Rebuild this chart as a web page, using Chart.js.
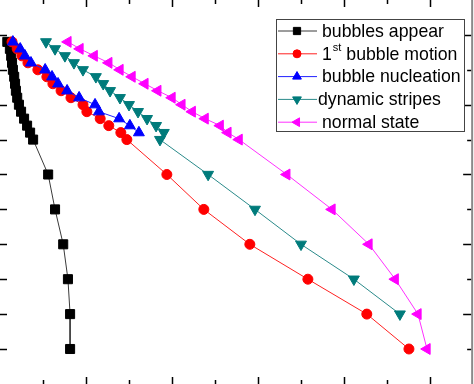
<!DOCTYPE html>
<html>
<head>
<meta charset="utf-8">
<script src="https://cdn.jsdelivr.net/npm/chart.js@4.4.0/dist/chart.umd.min.js"></script>
<style>
    html, body { margin: 0; padding: 0; background: #fff; }
    #wrap { position: relative; width: 474px; height: 384px; }
</style>
</head>
<body>
<div id="wrap"><canvas id="chart"></canvas></div>
<script>
// Vertical levels (axis is reversed, top = small)
const levels = [1.2, 1.4, 1.6, 1.8, 2.0, 2.2, 2.4, 2.6, 2.8, 3.0, 3.2, 3.4, 3.6, 3.8, 4.0, 5, 6, 7, 8, 9, 10];

// Horizontal values per series
const bubblesAppear = [0.17, 0.23, 0.26, 0.28, 0.30, 0.33, 0.35, 0.37, 0.40, 0.44, 0.49, 0.56, 0.63, 0.70, 0.77, 1.12, 1.28, 1.47, 1.58, 1.63, 1.63];
const firstMotion = [0.28, 0.40, 0.51, 0.65, 0.88, 1.09, 1.23, 1.42, 1.65, 1.93, 2.02, 2.33, 2.53, 2.81, 2.95, 3.88, 4.74, 5.81, 7.16, 8.53, 9.51];
const nucleation = [0.30, 0.47, 0.58, 0.72, 1.05, 1.21, 1.35, 1.56, 1.84, 2.21, 2.30, 2.77, 3.02, 3.23];
const stripes = [1.07, 1.28, 1.51, 1.72, 1.93, 2.23, 2.40, 2.56, 2.79, 3.00, 3.21, 3.42, 3.63, 3.81, 3.72, 4.84, 5.93, 7.00, 8.23, 9.30];
const normalState = [1.58, 1.86, 2.19, 2.53, 2.79, 3.07, 3.37, 3.67, 4.00, 4.23, 4.47, 4.77, 5.12, 5.30, 5.56, 6.67, 7.72, 8.58, 9.19, 9.72, 9.93];

const seriesLabels = ['bubbles appear', '1st bubble motion', 'bubble nucleation', 'dynamic stripes', 'normal state'];

// Tick positions (no tick labels are visible in the crop)
const xTicks = [1, 2, 3, 4, 5, 6, 7, 8, 9, 10];
const yTicks = [1, 2, 3, 4, 5, 6, 7, 8, 9, 10];

const FONT = '"Liberation Sans", Arial, sans-serif';

function toPoints(xs) {
    return xs.map((x, i) => ({ x: x, y: levels[i] }));
}

function makeSet(label, xs, color, lineColor, style, rot, radius, order) {
    return {
        label: label,
        data: toPoints(xs),
        borderColor: lineColor,
        borderWidth: 1,
        backgroundColor: color,
        pointStyle: style,
        pointRotation: rot,
        pointRadius: radius,
        pointBackgroundColor: color,
        pointBorderColor: color,
        pointBorderWidth: 1,
        tension: 0,
        clip: false,
        order: order
    };
}

// Frame, inward ticks and the legend box
const framePlugin = {
    id: 'frame',
    afterDatasetsDraw(chart) {
        const ctx = chart.ctx;
        const xs = chart.scales.x, ys = chart.scales.y;
        const H = chart.height;
        ctx.save();

        // right frame line
        const rx = xs.getPixelForValue(10.98);
        ctx.strokeStyle = '#8a8a8a';
        ctx.lineWidth = 2;
        ctx.beginPath();
        ctx.moveTo(rx, 0);
        ctx.lineTo(rx, H);
        ctx.stroke();

        ctx.strokeStyle = '#000';
        ctx.lineWidth = 1.5;
        xTicks.forEach(v => {
            const px = Math.round(xs.getPixelForValue(v)) + 0.5;
            const len = v % 2 === 0 ? 7 : 4;
            ctx.beginPath();
            ctx.moveTo(px, 0); ctx.lineTo(px, len);
            ctx.moveTo(px, H); ctx.lineTo(px, H - len);
            ctx.stroke();
        });
        yTicks.forEach(v => {
            const py = Math.round(ys.getPixelForValue(v)) + 0.5;
            const len = v % 2 === 1 ? 8 : 4;
            ctx.beginPath();
            ctx.moveTo(0, py); ctx.lineTo(7, py);
            ctx.moveTo(rx - 1, py); ctx.lineTo(rx - 1 - len, py);
            ctx.stroke();
        });

        // legend
        const bx = 276, by = 19, bw = 188, bh = 112;
        ctx.fillStyle = '#fff';
        ctx.fillRect(bx, by, bw, bh);
        ctx.strokeStyle = '#444';
        ctx.lineWidth = 1;
        ctx.strokeRect(bx + 0.5, by + 0.5, bw, bh);

        chart.data.datasets.forEach((ds, i) => {
            const cy = 31 + i * 22.8;
            ctx.strokeStyle = ds.borderColor;
            ctx.lineWidth = 1;
            ctx.beginPath();
            ctx.moveTo(278, cy);
            ctx.lineTo(317, cy);
            ctx.stroke();
            ctx.fillStyle = ds.pointBackgroundColor;
            ctx.strokeStyle = ds.pointBackgroundColor;
            Chart.helpers.drawPoint(ctx, {
                pointStyle: ds.pointStyle,
                rotation: ds.pointRotation,
                radius: ds.pointRadius * 0.8,
                borderWidth: 1
            }, 297, cy);

            ctx.fillStyle = '#000';
            ctx.textBaseline = 'middle';
            ctx.textAlign = 'left';
            let tx = i === 3 ? 318 : 322;
            const m = ds.label.match(/^(\d+)(st|nd|rd|th)(.*)$/);
            if (m) {
                ctx.font = '17.7px ' + FONT;
                ctx.fillText(m[1], tx, cy + 1);
                tx += ctx.measureText(m[1]).width + 1;
                ctx.font = '11px ' + FONT;
                ctx.fillText(m[2], tx, cy - 6);
                tx += ctx.measureText(m[2]).width;
                ctx.font = '17.7px ' + FONT;
                ctx.fillText(m[3], tx, cy + 1);
            } else {
                ctx.font = '17.7px ' + FONT;
                ctx.fillText(ds.label, tx, cy + 1);
            }
        });
        ctx.restore();
    }
};

const ctx = document.getElementById('chart').getContext('2d');
new Chart(ctx, {
    type: 'line',
    data: {
        datasets: [
            makeSet(seriesLabels[0], bubblesAppear, '#000000', '#3a3a3a', 'rect', 0, 6.4, 5),
            makeSet(seriesLabels[1], firstMotion, '#ff0000', '#ff2020', 'circle', 0, 5, 4),
            makeSet(seriesLabels[2], nucleation, '#0000ff', '#2020ff', 'triangle', 0, 6.3, 3),
            makeSet(seriesLabels[3], stripes, '#007b7b', '#2a8a8a', 'triangle', 180, 6.3, 2),
            makeSet(seriesLabels[4], normalState, '#ff00ff', '#ff30ff', 'triangle', 270, 6.3, 1)
        ]
    },
    options: {
        responsive: true,
        maintainAspectRatio: false,
        animation: false,
        layout: { padding: 0, autoPadding: false },
        plugins: {
            legend: { display: false },
            tooltip: { enabled: false }
        },
        scales: {
            x: { type: 'linear', min: 0, max: 11.023, display: false },
            y: { type: 'linear', min: 0, max: 11.003, reverse: true, display: false }
        }
    },
    plugins: [framePlugin]
});
</script>
</body>
</html>
